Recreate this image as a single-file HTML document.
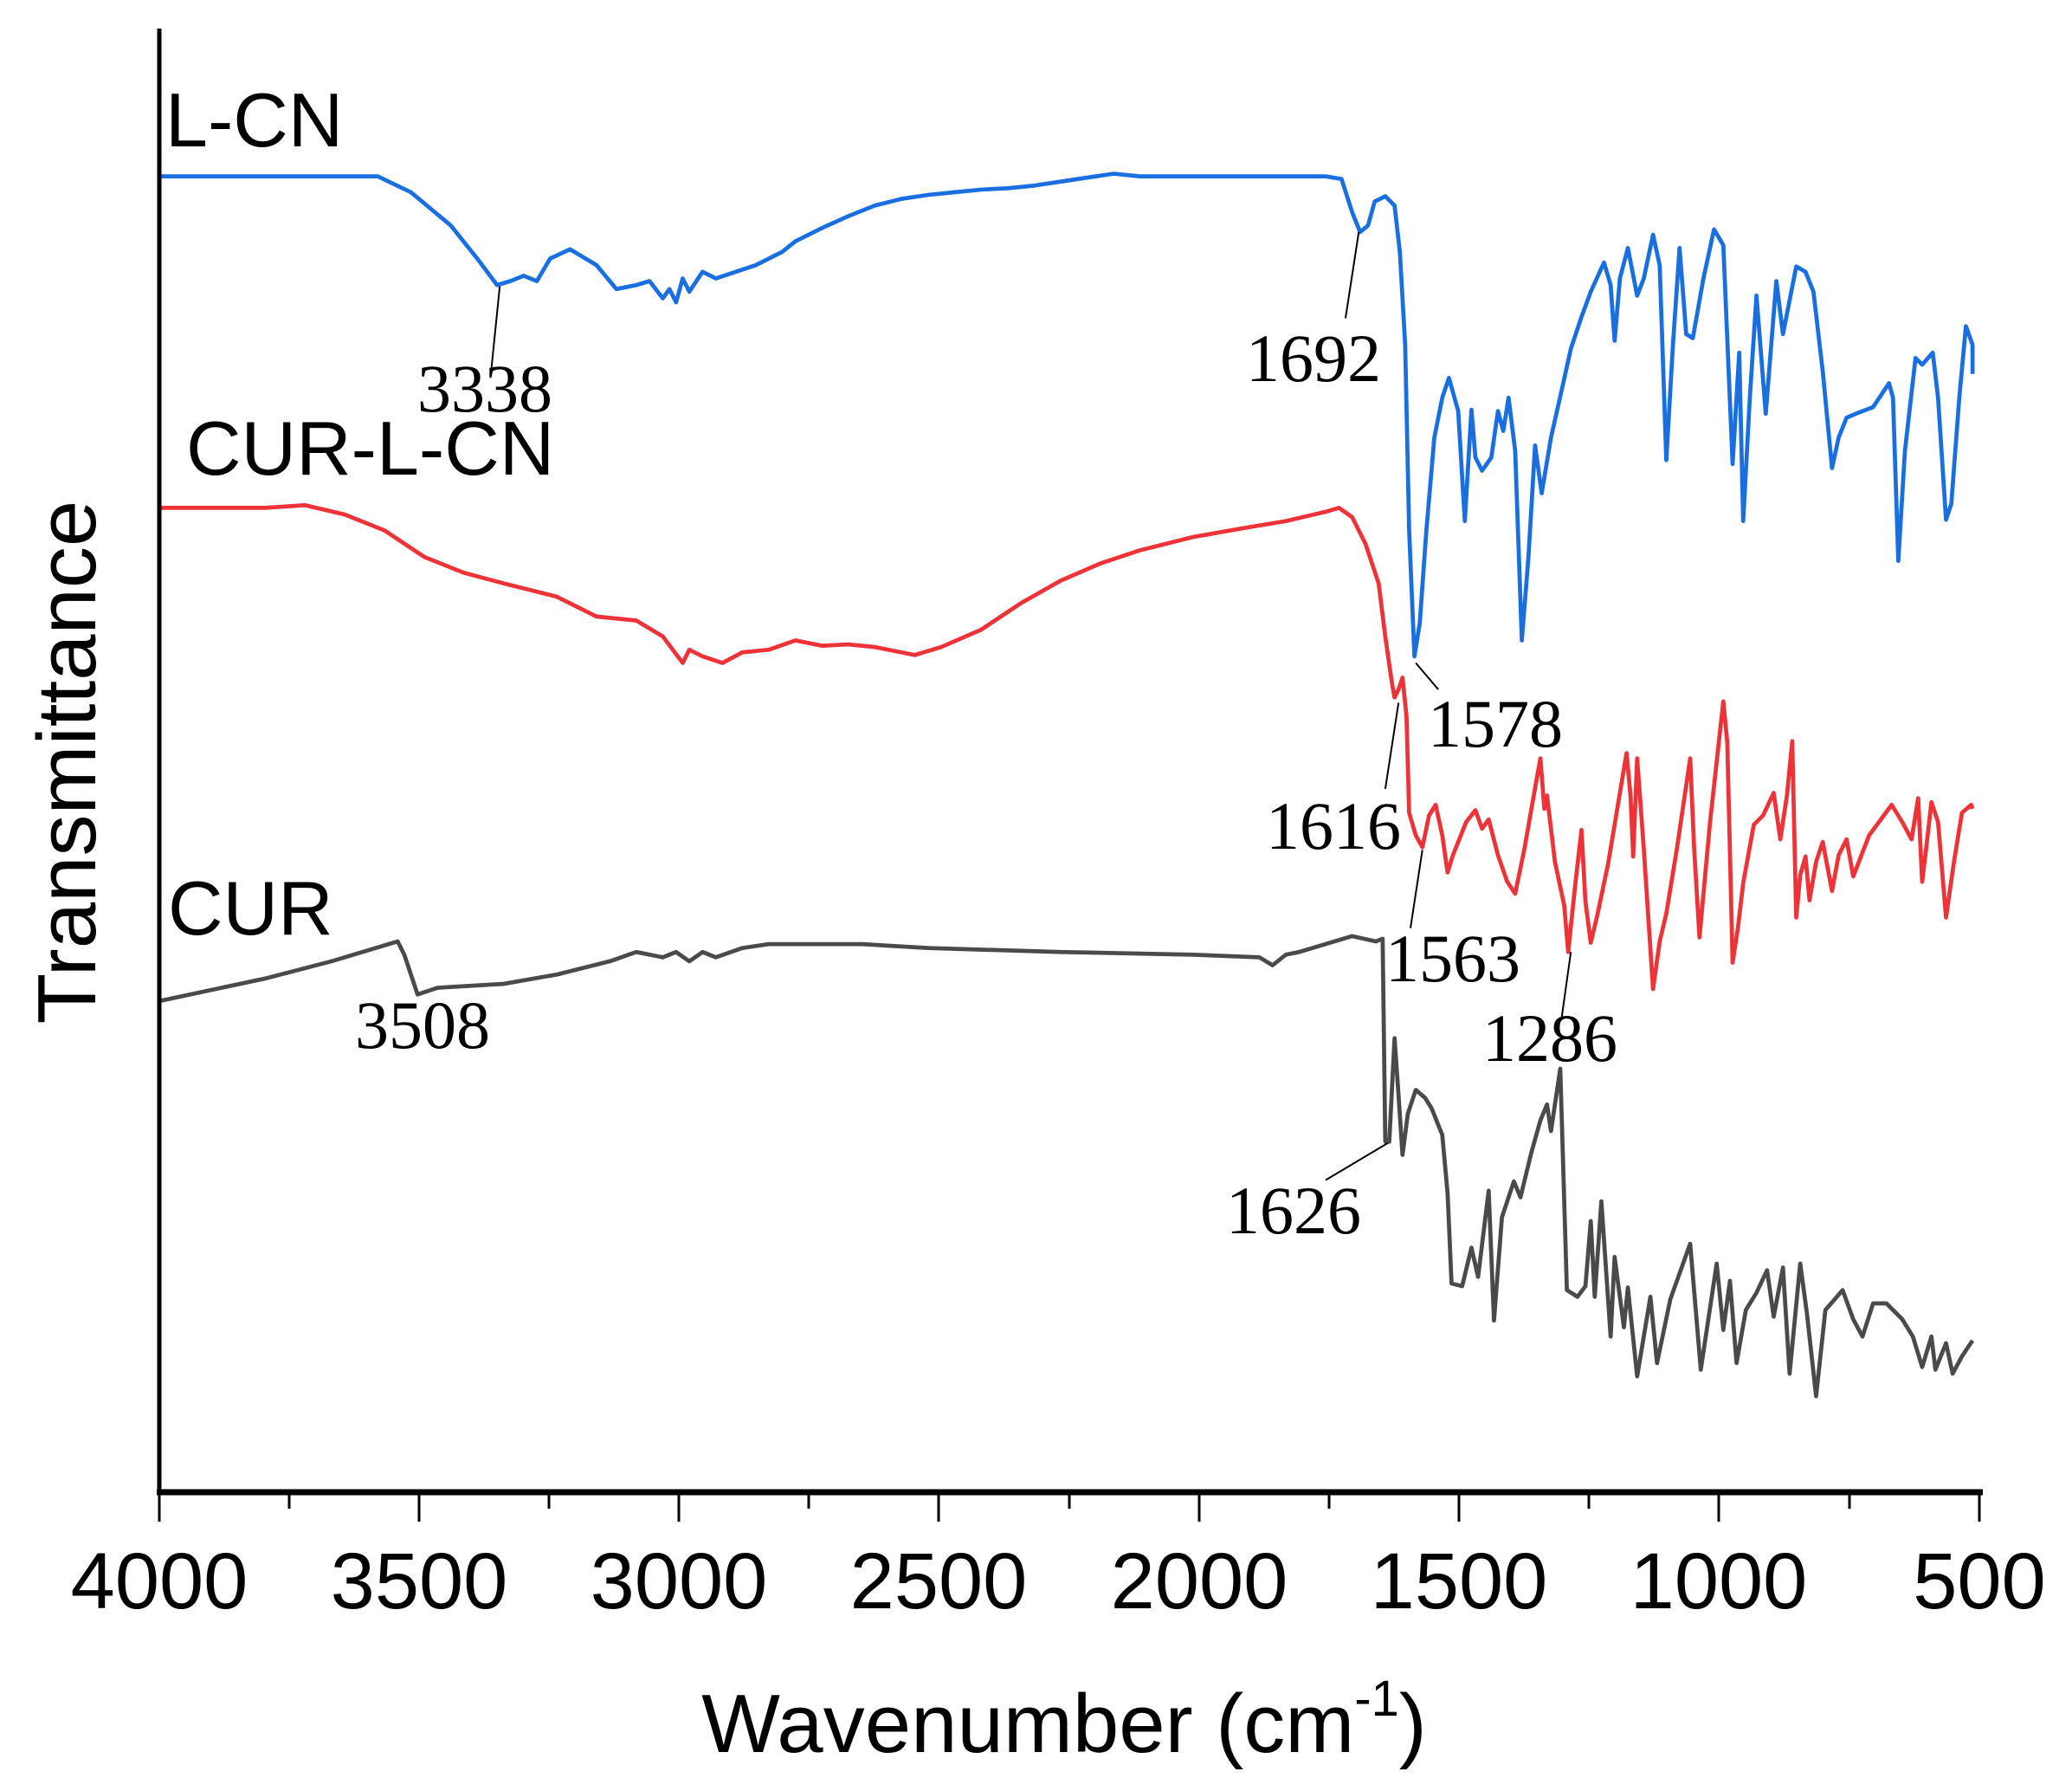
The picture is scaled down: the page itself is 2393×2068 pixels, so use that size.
<!DOCTYPE html>
<html><head><meta charset="utf-8"><style>
html,body{margin:0;padding:0;background:#fff;}
svg{display:block;}
</style></head><body>
<svg width="2393" height="2068" viewBox="0 0 2393 2068" xmlns="http://www.w3.org/2000/svg">
<rect width="2393" height="2068" fill="#fff"/>
<g transform="scale(1.531)" fill="none" stroke-linejoin="round">
<polyline stroke="#1a6fe0" stroke-width="3.1" points="120,133 285,133 310,145 340,170 360,195 375,215 385,212 395,208 405,212 415,195 430,188 450,200 465,218 480,215 490,212 500,225 505,218 510,228 515,210 520,220 530,205 540,210 555,205 570,200 590,190 600,182 620,172 640,163 660,155 680,150 700,147 720,145 740,143 760,142 780,140 800,137 820,134 840,131 860,133 900,133 1000,133 1012,135 1020,160 1026,175 1032,170 1037,152 1045,148 1052,155 1056,190 1060,260 1063,400 1067,495 1071,470 1076,400 1082,330 1088,300 1093,285 1100,310 1105,393 1110,309 1113,345 1118,355 1125,345 1130,310 1134,325 1138,300 1143,340 1148,483 1153,420 1158,336 1163,372 1170,330 1177,299 1185,263 1193,239 1200,220 1210,198 1215,215 1218,257 1222,210 1228,187 1235,223 1240,210 1247,177 1252,200 1257,347 1262,260 1267,187 1272,252 1277,255 1285,210 1293,173 1300,185 1307,350 1312,266 1315,393 1320,300 1325,223 1332,312 1340,212 1345,252 1355,201 1362,205 1368,220 1375,280 1382,353 1387,330 1393,315 1400,312 1413,307 1425,289 1428,300 1432,423 1437,340 1445,270 1450,275 1458,266 1462,300 1468,392 1472,380 1478,300 1483,246 1488,260 1488,282"/>
<polyline stroke="#ee3338" stroke-width="3.1" points="120,383 200,383 230,381 260,388 290,400 320,420 350,432 380,440 420,450 450,465 480,468 500,480 515,500 520,490 530,495 545,500 560,492 580,490 600,483 620,487 640,486 660,488 690,494 710,488 740,475 770,455 800,438 830,425 860,415 900,405 940,398 970,393 1000,386 1010,383 1020,390 1030,410 1040,440 1045,480 1050,515 1052,526 1055,520 1058,511 1061,540 1063,613 1068,630 1073,639 1078,615 1083,607 1088,630 1092,658 1096,645 1100,635 1106,620 1113,611 1118,625 1123,618 1130,645 1137,665 1143,674 1150,640 1157,600 1162,572 1165,610 1167,600 1173,650 1180,683 1183,718 1188,670 1193,626 1196,680 1200,711 1205,690 1213,652 1220,610 1227,568 1230,600 1232,646 1235,572 1240,640 1247,746 1252,710 1257,689 1265,640 1275,572 1278,640 1282,707 1290,620 1300,529 1303,560 1307,726 1311,700 1315,666 1323,622 1330,615 1338,598 1343,633 1348,600 1352,559 1355,692 1358,660 1362,646 1365,679 1370,650 1375,635 1382,672 1387,645 1393,633 1398,661 1410,630 1427,607 1435,620 1442,633 1447,602 1450,665 1453,640 1457,605 1462,620 1468,692 1474,650 1480,613 1487,607 1488,610"/>
<polyline stroke="#4a4a4a" stroke-width="3.1" points="120,755 200,738 250,725 300,710 305,720 315,750 330,745 380,742 420,735 460,725 480,718 500,722 510,718 520,725 530,718 540,722 560,715 580,712 600,712 650,712 700,715 800,718 900,720 950,722 960,728 970,720 980,718 1000,712 1020,706 1038,710 1043,708 1045,861 1048,861 1052,783 1055,826 1058,871 1062,840 1068,822 1075,828 1080,836 1088,856 1092,900 1095,968 1103,970 1110,941 1115,963 1123,898 1127,996 1133,918 1142,891 1147,903 1155,870 1162,845 1167,833 1170,853 1177,806 1182,973 1190,978 1196,970 1200,921 1203,978 1208,906 1215,1008 1218,948 1225,1001 1228,971 1235,1038 1245,978 1250,1028 1260,980 1275,938 1283,1033 1295,953 1300,1003 1305,966 1310,1028 1317,988 1325,975 1333,958 1338,993 1345,956 1350,1036 1358,953 1363,990 1370,1053 1377,988 1390,973 1398,995 1405,1008 1413,983 1423,983 1435,995 1443,1008 1450,1031 1457,1008 1460,1033 1468,1013 1473,1036 1480,1023 1488,1011"/>
<g stroke="#000" stroke-width="1.3">
<line x1="377" y1="216" x2="370" y2="285"/>
<line x1="1025" y1="175" x2="1015" y2="240"/>
<line x1="1068" y1="500" x2="1085" y2="520"/>
<line x1="1055" y1="530" x2="1045" y2="595"/>
<line x1="1073" y1="641" x2="1064" y2="700"/>
<line x1="1185" y1="718" x2="1178" y2="768"/>
<line x1="1047" y1="862" x2="1000" y2="890"/>
</g>
</g>
<line x1="184" y1="33" x2="184" y2="1726" stroke="#000" stroke-width="5"/>
<line x1="181" y1="1723" x2="2290" y2="1723" stroke="#000" stroke-width="7"/>
<g stroke="#000" stroke-width="3">
<line x1="184" y1="1723" x2="184" y2="1757"/><line x1="484" y1="1723" x2="484" y2="1757"/><line x1="784" y1="1723" x2="784" y2="1757"/><line x1="1084" y1="1723" x2="1084" y2="1757"/><line x1="1385" y1="1723" x2="1385" y2="1757"/><line x1="1685" y1="1723" x2="1685" y2="1757"/><line x1="1985" y1="1723" x2="1985" y2="1757"/><line x1="2286" y1="1723" x2="2286" y2="1757"/>
<line x1="334" y1="1723" x2="334" y2="1742"/><line x1="634" y1="1723" x2="634" y2="1742"/><line x1="934" y1="1723" x2="934" y2="1742"/><line x1="1235" y1="1723" x2="1235" y2="1742"/><line x1="1535" y1="1723" x2="1535" y2="1742"/><line x1="1835" y1="1723" x2="1835" y2="1742"/><line x1="2136" y1="1723" x2="2136" y2="1742"/>
</g>
<g font-family="Liberation Sans, sans-serif" font-size="92" text-anchor="middle" fill="#000">
<text x="184" y="1857">4000</text><text x="484" y="1857">3500</text><text x="784" y="1857">3000</text><text x="1084" y="1857">2500</text><text x="1385" y="1857">2000</text><text x="1685" y="1857">1500</text><text x="1985" y="1857">1000</text><text x="2286" y="1857">500</text>
<text x="1229" y="2023" font-size="96">Wavenumber (cm<tspan font-size="58" dy="-42">-1</tspan><tspan dy="42">)</tspan></text>
<text transform="translate(110,880) rotate(-90)" font-size="96">Transmittance</text>
</g>
<g font-family="Liberation Sans, sans-serif" font-size="88" fill="#000">
<text x="191" y="169">L-CN</text>
<text x="215" y="548">CUR-L-CN</text>
<text x="194" y="1079">CUR</text>
</g>
<g font-family="Liberation Serif, serif" font-size="78" fill="#000">
<text x="482" y="475">3338</text>
<text x="1439" y="440">1692</text>
<text x="1649" y="862">1578</text>
<text x="1462" y="980">1616</text>
<text x="1600" y="1133">1563</text>
<text x="1712" y="1225">1286</text>
<text x="410" y="1210">3508</text>
<text x="1416" y="1424">1626</text>
</g>
</svg>
</body></html>
